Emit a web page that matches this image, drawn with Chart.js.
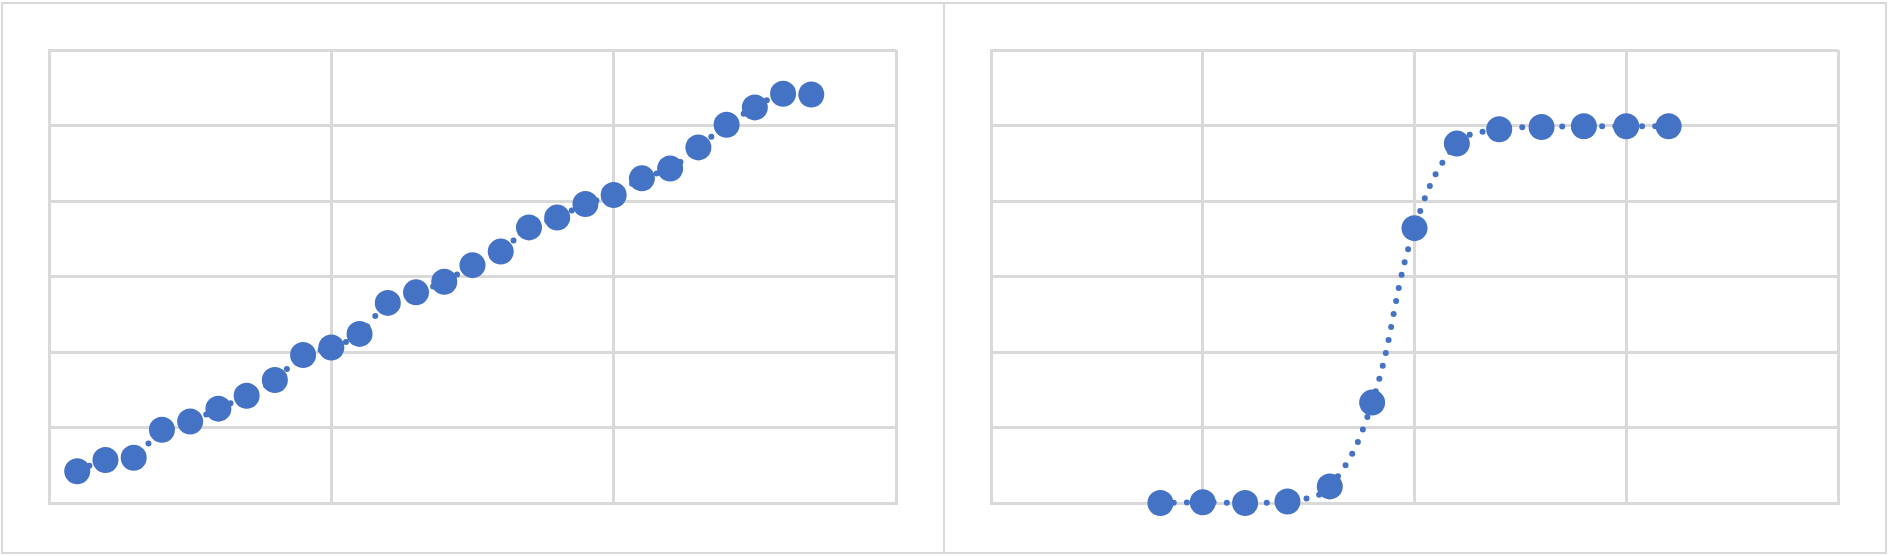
<!DOCTYPE html>
<html>
<head>
<meta charset="utf-8">
<script src="https://cdn.jsdelivr.net/npm/chart.js@4.4.1/dist/chart.umd.min.js"></script>
<style>
  html, body { margin: 0; padding: 0; background: #fff; }
  body { width: 1890px; height: 556px; position: relative; overflow: hidden; }
  .panel {
    position: absolute; top: 2px; width: 944px; height: 552px;
    border: 2px solid #d9d9d9; box-sizing: border-box;
  }
  .panel canvas { position: absolute; left: -2px; top: -2px; }
  #panelA { left: 1px; }
  #panelB { left: 943px; }
</style>
</head>
<body>
<div class="panel" id="panelA"><canvas id="chartA" width="944" height="552"></canvas></div>
<div class="panel" id="panelB"><canvas id="chartB" width="944" height="552"></canvas></div>
<script>
'use strict';

// ── DATA ─────────────────────────────────────────────────────

const leftX = [0.1, 0.2, 0.3, 0.4, 0.5, 0.6, 0.7, 0.8, 0.9, 1.0, 1.1, 1.2, 1.3, 1.4,
               1.5, 1.6, 1.7, 1.8, 1.9, 2.0, 2.1, 2.2, 2.3, 2.4, 2.5, 2.6, 2.7];
const leftY = [0.42, 0.57, 0.60, 0.97, 1.08, 1.25, 1.42, 1.63, 1.96, 2.06, 2.24, 2.65, 2.79, 2.93,
               3.15, 3.33, 3.65, 3.78, 3.96, 4.08, 4.30, 4.43, 4.71, 5.01, 5.24, 5.42, 5.41];

const rightX = [0.8, 1.0, 1.2, 1.4, 1.6, 1.8, 2.0, 2.2, 2.4, 2.6, 2.8, 3.0, 3.2];
const rightY = [0.00, 0.01, 0.00, 0.02, 0.22, 1.33, 3.64, 4.76, 4.95, 4.98, 4.99, 4.99, 4.99];

const leftXRange  = [0, 3];
const rightXRange = [0, 4];
const yRange      = [0, 6];

// ── STYLE ────────────────────────────────────────────────────

const BLUE = '#4472C4';
const GRID = '#d9d9d9';

function axis(range) {
  return {
    type: 'linear',
    min: range[0],
    max: range[1],
    ticks: { display: false, stepSize: 1 },
    grid: { color: GRID, lineWidth: 3, drawTicks: false },
    border: { color: GRID, width: 3 },
  };
}

function drawPanel(id, xs, ys, xRange) {
  new Chart(document.getElementById(id), {
    type: 'scatter',
    data: {
      datasets: [{
        data: xs.map((x, i) => ({ x, y: ys[i] })),
        showLine: true,
        tension: 0.4,
        borderColor: BLUE,
        borderWidth: 6,
        borderDash: [0, 13.3],
        borderCapStyle: 'round',
        pointRadius: 13,
        pointBorderWidth: 0,
        pointBackgroundColor: BLUE,
        clip: false,
      }],
    },
    options: {
      responsive: false,
      animation: false,
      layout: { padding: { left: 48, right: 49, top: 48, bottom: 51 } },
      plugins: { legend: { display: false }, tooltip: { enabled: false } },
      scales: { x: axis(xRange), y: axis(yRange) },
    },
  });
}

drawPanel('chartA', leftX, leftY, leftXRange);
drawPanel('chartB', rightX, rightY, rightXRange);
</script>
</body>
</html>
